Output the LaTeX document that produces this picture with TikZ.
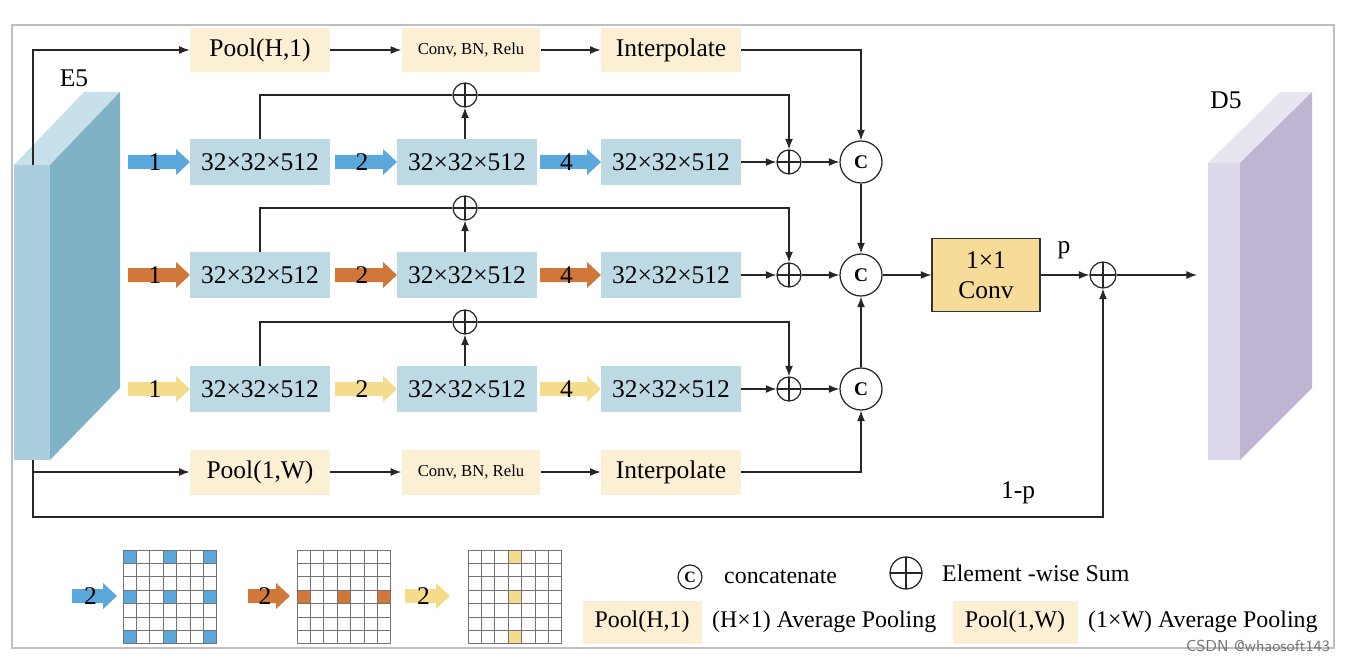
\documentclass[tikz,border=0pt]{standalone}
\usepackage{fontspec}
\setmainfont{Liberation Serif}
\usetikzlibrary{arrows.meta}
\definecolor{bbox}{HTML}{BDDAE4}
\definecolor{ybox}{HTML}{FBEFD4}
\definecolor{cbox}{HTML}{F7DC99}
\definecolor{ablue}{HTML}{5BA8DD}
\definecolor{aorange}{HTML}{D2773A}
\definecolor{ayellow}{HTML}{F4DC8C}
\begin{document}
\begin{tikzpicture}[x=0.02cm,y=-0.02cm,
  ln/.style={draw=black!85,line width=0.7pt},
  ar/.style={ln,-{Latex[length=6pt,width=4.5pt]}},
  bx/.style={fill=bbox,minimum width=2.8cm,minimum height=0.92cm,font=\fontsize{14.5}{16}\selectfont},
  yb/.style={fill=ybox,minimum width=2.8cm,minimum height=0.9cm,font=\fontsize{14.5}{16}\selectfont},
  ys/.style={fill=ybox,minimum width=2.78cm,minimum height=0.9cm,font=\fontsize{9.5}{11}\selectfont},
  pl/.style={circle,ln,minimum size=0.48cm,inner sep=0pt,path picture={\draw[black!85,line width=0.7pt] (path picture bounding box.north)--(path picture bounding box.south) (path picture bounding box.west)--(path picture bounding box.east);}},
  cc/.style={circle,ln,minimum size=0.84cm,inner sep=0pt,font=\bfseries\fontsize{11}{12}\selectfont},
  tx/.style={font=\fontsize{14.5}{16}\selectfont},
  lt/.style={font=\fontsize{13.6}{16}\selectfont,anchor=west}]
\useasboundingbox (0,0) rectangle (1354,662);
\draw[black!25,line width=0.6pt] (12,25) rectangle (1334,648);
\newcommand\fatarr[5]{\fill[#4] (#1,#3-7)--(#2-14,#3-7)--(#2-14,#3-13)--(#2,#3)--(#2-14,#3+13)--(#2-14,#3+7)--(#1,#3+7)--cycle;
  \node[tx] at ({(#1+#2)/2-4},#3) {#5};}
% E5
\fill[fill={rgb,255:red,199;green,224;blue,233}] (14,165)--(84,92)--(120,92)--(50,165)--cycle;
\fill[fill={rgb,255:red,126;green,178;blue,196}] (50,165)--(120,92)--(120,388)--(50,460)--cycle;
\fill[fill={rgb,255:red,170;green,206;blue,219}] (14,165) rectangle (50,460);
\node[tx] (e5) at (74,78) {E5};
\coordinate (et) at (33,165);
\coordinate (eb) at (33,460);
% D5
\fill[fill={rgb,255:red,232;green,228;blue,240}] (1208,163)--(1280,92)--(1312,92)--(1240,163)--cycle;
\fill[fill={rgb,255:red,191;green,181;blue,211}] (1240,163)--(1312,92)--(1312,388)--(1240,460)--cycle;
\fill[fill={rgb,255:red,221;green,216;blue,233}] (1208,163) rectangle (1240,460);
\node[tx] (d5) at (1226,100) {D5};
\coordinate (din) at (1197,275);
% top row
\node[yb] (ph) at (260,50) {Pool(H,1)};
\node[ys] (cbt) at (471,50) {Conv, BN, Relu};
\node[yb] (it) at (671,50) {Interpolate};
\draw[ar] (et)|-(ph);
\draw[ar] (ph)--(cbt);
\draw[ar] (cbt)--(it);
% bottom row
\node[yb] (pw) at (260,472) {Pool(1,W)};
\node[ys] (cbb) at (471,472) {Conv, BN, Relu};
\node[yb] (ib) at (671,472) {Interpolate};
\draw[ar] (eb)|-(pw);
\draw[ar] (pw)--(cbb);
\draw[ar] (cbb)--(ib);
% rows
\foreach \y/\c/\i in {162/ablue/1,275/aorange/2,389/ayellow/3}{
  \fatarr{128}{190}{\y}{\c}{1}
  \fatarr{335}{397}{\y}{\c}{2}
  \fatarr{540}{601}{\y}{\c}{4}
  \node[bx] (a\i) at (260,\y) {32×32×512};
  \node[bx] (b\i) at (467,\y) {32×32×512};
  \node[bx] (c\i) at (671,\y) {32×32×512};
  \node[pl] (s\i) at (465,\y-67) {};
  \node[pl] (q\i) at (789,\y) {};
  \node[cc] (k\i) at (861,\y) {C};
  \draw[ln] (a\i.north)|-(s\i);
  \draw[ar] (s\i|-b\i.north)--(s\i);
  \draw[ar] (s\i)-|(q\i);
  \draw[ar] (c\i)--(q\i);
  \draw[ar] (q\i)--(k\i);
}
\draw[ar] (it)-|(k1);
\draw[ar] (ib)-|(k3);
\draw[ar] (k1)--(k2);
\draw[ar] (k3)--(k2);
\node[fill=cbox,draw=black!80,line width=0.8pt,minimum width=2.16cm,minimum height=1.46cm,align=center,font=\fontsize{14.5}{17}\selectfont] (cv) at (986,275) {1×1\\Conv};
\draw[ar] (k2)--(cv);
\node[pl,minimum size=0.52cm] (fs) at (1103,275) {};
\draw[ar] (cv)--(fs);
\node[tx] (p) at (1064,250) {p};
\draw[ar] (fs)--(din);
\draw[ar] (33,460)--(33,517)-|(fs);
\node[tx] (omp) at (1018,493) {1-p};
% legend
\fatarr{72}{117}{596}{ablue}{2}
\fatarr{248}{290}{596}{aorange}{2}
\fatarr{405}{450}{596}{ayellow}{2}
\def\cs{13.4}
\foreach \gx/\cells/\col in {123/{0/0,3/0,6/0,0/3,3/3,6/3,0/6,3/6,6/6}/ablue,297/{0/3,3/3,6/3}/aorange,468/{3/0,3/3,3/6}/ayellow}{
  \foreach \cx/\cy in \cells {\fill[\col] (\gx+\cx*\cs,550+\cy*\cs) rectangle ++(\cs,\cs);}
  \foreach \k in {0,...,7}{
    \draw[black!55,line width=0.4pt] (\gx+\k*\cs,550)--(\gx+\k*\cs,550+7*\cs);
    \draw[black!55,line width=0.4pt] (\gx,550+\k*\cs)--(\gx+7*\cs,550+\k*\cs);
  }
}
\node[circle,ln,minimum size=0.48cm,inner sep=0pt,font=\bfseries\fontsize{9}{10}\selectfont] (lc) at (690,577) {C};
\node[lt] (lct) at (718,577) {concatenate};
\node[pl,minimum size=0.64cm] (lp) at (906,573) {};
\node[lt] (lpt) at (936,573) {Element -wise Sum};
\node[yb,minimum width=2.38cm,minimum height=0.86cm,font=\fontsize{13.6}{16}\selectfont] (lh) at (642,622) {Pool(H,1)};
\node[lt] (lht) at (706,622) {(H×1) Average Pooling};
\node[yb,minimum width=2.5cm,minimum height=0.86cm,font=\fontsize{13.6}{16}\selectfont] (lw) at (1015,622) {Pool(1,W)};
\node[lt] (lwt) at (1082,622) {(1×W) Average Pooling};
\node[font=\sffamily\fontsize{9}{10}\selectfont,text=black!55] (wm) at (1258,646) {CSDN @whaosoft143};
\end{tikzpicture}
\end{document}
